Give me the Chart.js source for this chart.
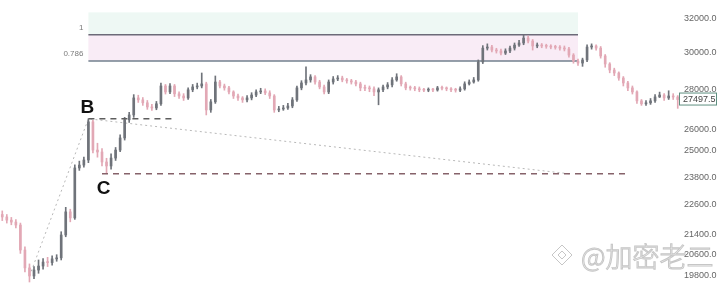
<!DOCTYPE html>
<html>
<head>
<meta charset="utf-8">
<script src="https://cdn.jsdelivr.net/npm/chart.js@4.4.1/dist/chart.umd.min.js"></script>
<style>
  html, body { margin: 0; padding: 0; background: #fff; }
  #wrap { width: 720px; height: 284px; position: relative; }
</style>
</head>
<body>
<div id="wrap"><canvas id="chart"></canvas></div>
<script>
// candle data, open = previous close
const firstOpen = 22200;
const closes = [
  22100, 21970, 21890, 21770, 20780, 20100, 19800, 20020, 20170, 20320,
  20300, 20440, 20480, 21370, 22310, 22060, 24210, 24340, 24570, 26380,
  25030, 24940, 24480, 24300, 24660, 25030, 25600, 26480, 26720, 27580,
  27480, 27330, 27120, 27070, 27280, 28200, 27890, 28200, 27790, 27680,
  27580, 28000, 28150, 28200, 28310, 26970, 27380, 28410, 28200, 28100,
  27890, 27680, 27580, 27480, 27580, 27730, 27890, 27940, 27840, 27680,
  26970, 27020, 27070, 27170, 27480, 28100, 28360, 28520, 28680, 28410,
  28150, 27890, 28410, 28570, 28620, 28520, 28470, 28410, 28310, 28100,
  28080, 28050, 27890, 28000, 28150, 28260, 28520, 28680, 28310, 28100,
  28090, 28050, 28000, 27980, 28000, 27990, 28100, 28080, 28050, 28000,
  27980, 28050, 28310, 28410, 28520, 29490, 30260, 30320, 30150, 30100,
  29980, 30100, 30260, 30430, 30550, 30830, 30660, 30380, 30430, 30380,
  30360, 30320, 30300, 30260, 30210, 29870, 29540, 29430, 29600, 30320,
  30380, 30260, 29820, 29380, 29050, 28890, 28620, 28360, 28100, 27890,
  27430, 27280, 27330, 27430, 27630, 27730, 27580, 27680, 27630, 27497.5
];
const highs = [
  22350, 22200, 22080, 21990, 21850, 20900, 20250, 20150, 20400, 20450,
  20500, 20560, 20600, 21500, 22500, 22420, 24350, 24520, 24700, 26530,
  26450, 25350, 25100, 24650, 24850, 25150, 25750, 26600, 26850, 27750,
  27720, 27600, 27450, 27250, 27400, 28350, 28280, 28320, 28280, 27900,
  27800, 28100, 28280, 28350, 28890, 28400, 27500, 28730, 28500, 28300,
  28180, 27950, 27780, 27650, 27700, 27850, 28000, 28080, 28050, 27950,
  27750, 27150, 27200, 27300, 27600, 28200, 28480, 29220, 28800, 28750,
  28500, 28250, 28520, 28700, 28750, 28720, 28600, 28550, 28500, 28400,
  28250, 28200, 28150, 28100, 28250, 28380, 28650, 28850, 28750, 28400,
  28200, 28180, 28150, 28080, 28100, 28080, 28180, 28200, 28150, 28120,
  28080, 28150, 28420, 28520, 28650, 29600, 30400, 30500, 30420, 30250,
  30200, 30220, 30380, 30550, 30700, 31000, 30950, 30750, 30550, 30520,
  30480, 30450, 30420, 30400, 30380, 30300, 29950, 29650, 29700, 30450,
  30500, 30450, 30350, 29900, 29450, 29150, 28950, 28700, 28450, 28200,
  27950, 27500, 27450, 27550, 27750, 27880, 27800, 27950, 27800, 27700
];
const lows = [
  21950, 21850, 21780, 21650, 20650, 19950, 19580, 19700, 19900, 20050,
  20150, 20200, 20350, 20400, 21300, 21900, 22000, 24100, 24250, 24450,
  24900, 24700, 24300, 23950, 24150, 24550, 24950, 25500, 26350, 26600,
  27350, 27200, 27000, 26950, 26980, 27200, 27780, 27800, 27650, 27550,
  27450, 27500, 27900, 28050, 28100, 26720, 26850, 27300, 28100, 27980,
  27780, 27550, 27450, 27350, 27380, 27480, 27650, 27800, 27750, 27550,
  26850, 26880, 26950, 27000, 27080, 27400, 28000, 28250, 28400, 28300,
  28050, 27780, 27800, 28300, 28480, 28420, 28350, 28300, 28200, 27950,
  27950, 27900, 27700, 27230, 27900, 28050, 28150, 28450, 28200, 28000,
  27980, 27950, 27900, 27900, 27900, 27900, 27930, 28000, 27950, 27900,
  27880, 27900, 27980, 28250, 28350, 28450, 29400, 30150, 30050, 29980,
  29880, 29900, 30000, 30150, 30350, 30450, 30550, 30150, 30280, 30280,
  30250, 30220, 30200, 30150, 30100, 29750, 29420, 29300, 29250, 29500,
  30200, 30150, 29700, 29200, 28900, 28750, 28500, 28200, 27950, 27780,
  27300, 27200, 27200, 27250, 27350, 27600, 27450, 27500, 27500, 27050
];

const yTicks = [19800, 20600, 21400, 22600, 23800, 25000, 26000, 28000, 30000, 32000];
const yMin = 19507;
const yMax = 33094;

// fib band: top edge, level 1, level 0.786 ; spans candle index fibFrom..fibTo
const fibValues = [32340, 31020, 29542];
const fibNames = ['1', '0.786'];
const fibFrom = 19;
const fibTo = 127;

// B / C levels
const bIndex = 19, bPrice = 26530, bLineTo = 38;
const cIndex = 23, cPrice = 23950, cLineFrom = 22, cLineTo = 138;
const aIndex = 6, aPrice = 19800;
const trendEndIndex = 125;

const opens = closes.map((c, i) => i === 0 ? firstOpen : closes[i - 1]);
const labels = closes.map((c, i) => i);
const upColor = '#6f737a';
const downColor = '#e2a8b5';
const colors = closes.map((c, i) => c >= opens[i] ? upColor : downColor);

const overlay = {
  id: 'overlay',
  beforeDatasetsDraw(chart) {
    const { ctx, scales: { x, y } } = chart;
    const x0 = x.getPixelForValue(fibFrom);
    const x1 = x.getPixelForValue(fibTo);
    const yTop = y.getPixelForValue(fibValues[0]);
    const y1 = y.getPixelForValue(fibValues[1]);
    const y2 = y.getPixelForValue(fibValues[2]);
    ctx.save();
    ctx.fillStyle = '#eef8f4';
    ctx.fillRect(x0, yTop, x1 - x0, y1 - yTop);
    ctx.fillStyle = '#f9ecf6';
    ctx.fillRect(x0, y1, x1 - x0, y2 - y1);
    ctx.lineWidth = 1.5;
    ctx.strokeStyle = '#6c6a78';
    ctx.beginPath(); ctx.moveTo(x0, y1); ctx.lineTo(x1, y1); ctx.stroke();
    ctx.strokeStyle = '#72808e';
    ctx.beginPath(); ctx.moveTo(x0, y2); ctx.lineTo(x1, y2); ctx.stroke();
    ctx.fillStyle = '#7a7a7a';
    ctx.font = '8px "Liberation Sans", Arial, sans-serif';
    ctx.textAlign = 'right';
    ctx.textBaseline = 'middle';
    ctx.fillText(fibNames[0], x0 - 5, y1 - 7);
    ctx.fillText(fibNames[1], x0 - 5, y2 - 7);

    // dotted trend lines
    ctx.setLineDash([2, 3]);
    ctx.lineWidth = 1;
    ctx.strokeStyle = '#b8b8b8';
    ctx.beginPath();
    ctx.moveTo(x.getPixelForValue(aIndex), y.getPixelForValue(aPrice));
    ctx.lineTo(x.getPixelForValue(bIndex), y.getPixelForValue(bPrice));
    ctx.lineTo(x.getPixelForValue(trendEndIndex), y.getPixelForValue(cPrice));
    ctx.stroke();
    ctx.restore();
  },
  afterDatasetsDraw(chart) {
    const { ctx, chartArea, scales: { x, y } } = chart;
    ctx.save();
    // B level
    ctx.setLineDash([6, 5]);
    ctx.lineWidth = 1.5;
    ctx.strokeStyle = '#5e5e5e';
    const yb = y.getPixelForValue(bPrice);
    ctx.beginPath();
    ctx.moveTo(x.getPixelForValue(bIndex), yb);
    ctx.lineTo(x.getPixelForValue(bLineTo), yb);
    ctx.stroke();
    // C level
    ctx.strokeStyle = '#86626a';
    const yc = y.getPixelForValue(cPrice);
    ctx.beginPath();
    ctx.moveTo(x.getPixelForValue(cLineFrom), yc);
    ctx.lineTo(x.getPixelForValue(cLineTo), yc);
    ctx.stroke();
    ctx.setLineDash([]);

    ctx.fillStyle = '#111';
    ctx.font = 'bold 19px "Liberation Sans", Arial, sans-serif';
    ctx.textAlign = 'center';
    ctx.textBaseline = 'middle';
    ctx.fillText('B', x.getPixelForValue(bIndex) - 1, yb - 11);
    ctx.fillText('C', x.getPixelForValue(cIndex) - 3, yc + 15);

    // last price box
    const last = closes[closes.length - 1];
    const yl = y.getPixelForValue(last);
    ctx.fillStyle = '#fff';
    ctx.fillRect(chartArea.right - 1, yl - 6, 38, 12);
    ctx.strokeStyle = '#5f8f80';
    ctx.lineWidth = 1;
    ctx.strokeRect(chartArea.right - 0.5, yl - 6.5, 37, 12);
    ctx.fillStyle = '#444';
    ctx.font = '9px "Liberation Sans", Arial, sans-serif';
    ctx.textAlign = 'left';
    ctx.fillText(last.toFixed(1), chartArea.right + 3, yl);

    // watermark
    ctx.strokeStyle = '#c6c6c6';
    ctx.lineWidth = 1;
    const lx = 562, ly = 255;
    ctx.beginPath();
    ctx.moveTo(lx, ly - 10); ctx.lineTo(lx + 10, ly); ctx.lineTo(lx, ly + 10); ctx.lineTo(lx - 10, ly); ctx.closePath();
    ctx.stroke();
    ctx.beginPath();
    ctx.moveTo(lx, ly - 4); ctx.lineTo(lx + 4, ly); ctx.lineTo(lx, ly + 4); ctx.lineTo(lx - 4, ly); ctx.closePath();
    ctx.stroke();
    ctx.font = '300 27px "Noto Sans CJK SC", sans-serif';
    ctx.textAlign = 'left';
    ctx.textBaseline = 'alphabetic';
    ctx.strokeText('@加密老二', 581, 267);
    ctx.restore();
  }
};

new Chart(document.getElementById('chart'), {
  type: 'bar',
  data: {
    labels: labels,
    datasets: [
      {
        label: 'wick',
        data: lows.map((l, i) => [l, highs[i]]),
        backgroundColor: colors,
        barThickness: 1,
        grouped: false,
        order: 2,
      },
      {
        label: 'body',
        data: opens.map((o, i) => [o, closes[i]]),
        backgroundColor: colors,
        barThickness: 2,
        minBarLength: 1,
        grouped: false,
        order: 1,
      },
    ],
  },
  options: {
    responsive: true,
    maintainAspectRatio: false,
    animation: false,
    layout: { padding: 0 },
    plugins: {
      legend: { display: false },
      tooltip: { enabled: false },
    },
    scales: {
      x: {
        display: false,
      },
      y: {
        type: 'logarithmic',
        position: 'right',
        min: yMin,
        max: yMax,
        grid: { display: false, drawTicks: false },
        border: { display: false },
        ticks: {
          autoSkip: false,
          padding: 4,
          color: '#666',
          font: { size: 9, family: '"Liberation Sans", Arial, sans-serif' },
          callback: (v) => Number(v).toFixed(1),
        },
        afterBuildTicks: (scale) => {
          scale.ticks = yTicks.map((v) => ({ value: v }));
        },
        afterFit: (scale) => {
          scale.width = 40;
          scale.paddingTop = 0;
          scale.paddingBottom = 0;
        },
      },
    },
  },
  plugins: [overlay],
});
</script>
</body>
</html>
